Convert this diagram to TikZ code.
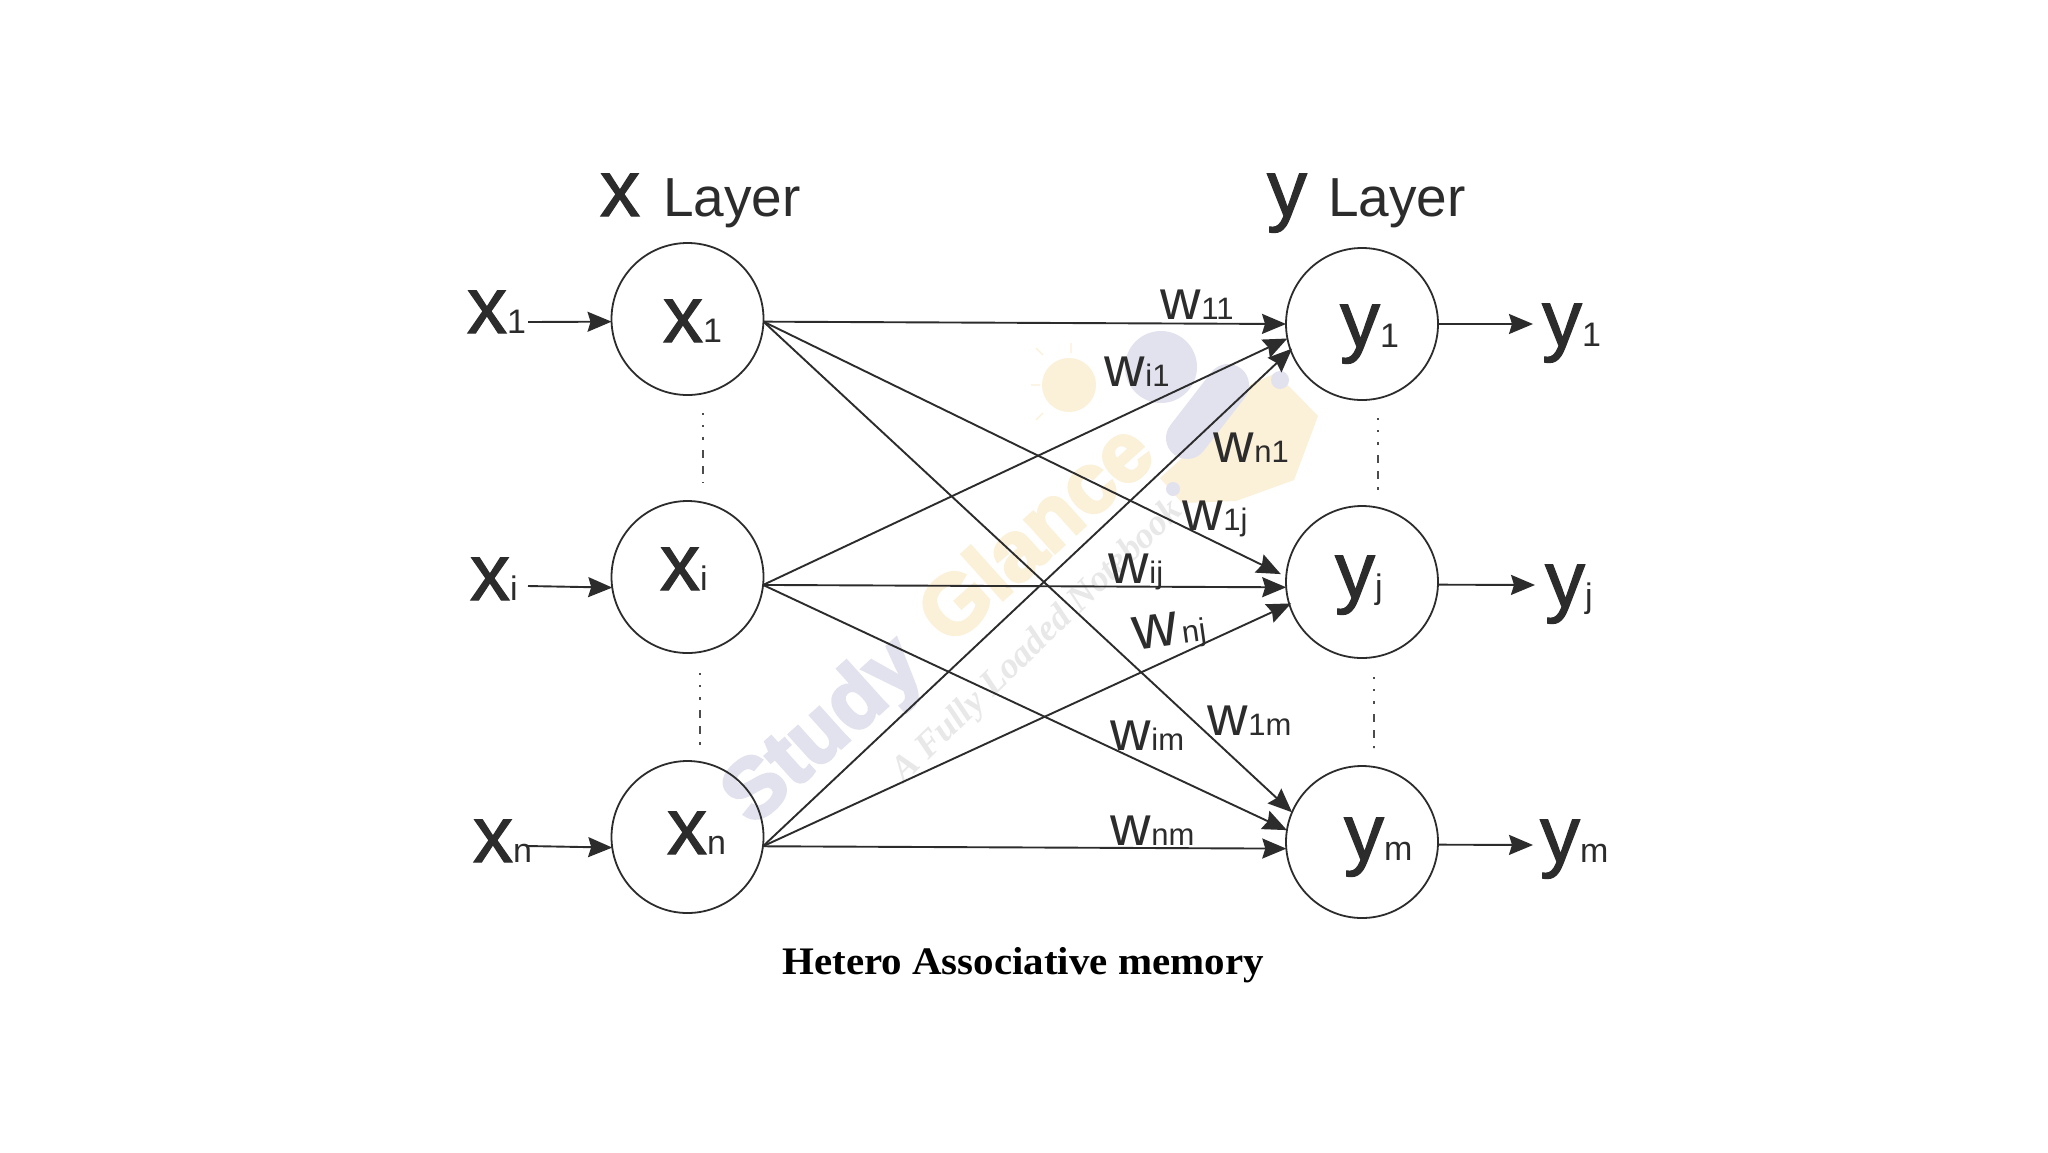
\documentclass[tikz,border=0pt]{standalone}
\usepackage{fontspec}
\setmainfont{Liberation Sans}
\newfontfamily\capfont{Liberation Serif}
\newfontfamily\heavy[FakeBold=1.4]{Liberation Sans}
\newfontfamily\wmfont[FakeBold=4]{Liberation Sans Bold}
\usetikzlibrary{arrows.meta}
\definecolor{ink}{HTML}{2C2C2C}
\definecolor{wmgold}{HTML}{FBF0D8}
\definecolor{wmblue}{HTML}{E2E2EE}
\definecolor{wmgray}{HTML}{E8E8E8}
\newcommand{\biglab}[2]{{\heavy\fontsize{40}{40}\selectfont #1}{\fontsize{17}{17}\selectfont #2}}
\newcommand{\wlab}[2]{{\fontsize{28}{28}\selectfont #1}\kern.5pt{\fontsize{15.5}{15.5}\selectfont #2}}
\tikzset{
  neuron/.style={circle,draw=ink,line width=.9pt,minimum size=76pt,inner sep=0pt,outer sep=0pt},
  txt/.style={anchor=base west,inner sep=0pt,outer sep=0pt,text=ink},
  wire/.style={draw=ink,line width=.95pt,-{Stealth[length=12pt,width=10pt,inset=1.5pt]}},
  ell/.style={draw=ink!85,line width=.6pt,dash pattern=on 1pt off 5pt on 1pt off 5pt on 1.5pt off 5pt on 4pt off 4pt on 4pt off 4pt on 1pt off 0pt},
  mark sun/.style={draw=wmgold,line width=.6pt},
  wmbig/.style={inner sep=0pt,font=\wmfont\fontsize{42}{42}\selectfont,rotate=42}
}
\begin{document}
\begin{tikzpicture}[x=.5pt,y=-.5pt]
\useasboundingbox[fill=white] (0,0) rectangle (2048,1152);
% watermark
\fill[wmgold] (1276,373) -- (1318,416) -- (1294,480) -- (1236,501) -- (1182,503) -- (1160,478) -- (1213,430) -- (1245,387) -- cycle;
\fill[wmgold] (1069,385) circle[radius=27];
\draw[mark sun] (1071,343)--(1071,353) (1043,355)--(1036,348) (1031,385)--(1040,385) (1043,413)--(1036,420);
\fill[wmblue] (1161,367) circle[radius=36];
\draw[wmblue,line width=21pt,line cap=round] (1228,385)--(1187,438);
\fill[wmblue] (1280,380) circle[radius=9];
\fill[wmblue] (1173,489) circle[radius=7];
\node[wmbig,text=wmblue] (wmstudy) at (825,733) {Study};
\node[wmbig,text=wmgold] (wmglance) at (1034,531) {Glance};
\node[inner sep=0pt,rotate=44,text=wmgray,font=\capfont\fontsize{18.3}{18.3}\selectfont\itshape\bfseries] (wmnote) at (1038,642) {A Fully Loaded Notebook};
% neurons
\node[neuron] (x1) at (687.5,319) {};
\node[neuron] (xi) at (687.5,577) {};
\node[neuron] (xn) at (687.5,837) {};
\node[neuron] (y1) at (1362,324) {};
\node[neuron] (yj) at (1362,582) {};
\node[neuron] (ym) at (1362,842) {};
% in-node labels
\node[txt] (tx1) at (663,342) {\biglab{x}{1}};
\node[txt] (txi) at (660,590) {\biglab{x}{i}};
\node[txt] (txn) at (667,854) {\biglab{x}{n}};
\node[txt] (ty1) at (1340,347) {\biglab{y}{1}};
\node[txt] (tyj) at (1335,598) {\biglab{y}{j}};
\node[txt] (tym) at (1344,860) {\biglab{y}{m}};
% input / output labels
\node[txt] (ix1) at (467,333) {\biglab{x}{1}};
\node[txt] (ixi) at (470,600) {\biglab{x}{i}};
\node[txt] (ixn) at (473,862) {\biglab{x}{n}};
\node[txt] (oy1) at (1542,346) {\biglab{y}{1}};
\node[txt] (oyj) at (1545,607) {\biglab{y}{j}};
\node[txt] (oym) at (1540,862) {\biglab{y}{m}};
% layer titles
\node[txt] (lx) at (600,216) {\heavy\fontsize{40}{40}\selectfont x};
\node[txt] (lxt) at (663,216) {\fontsize{27.5}{27.5}\selectfont Layer};
\node[txt] (ly) at (1267,216) {\heavy\fontsize{40}{40}\selectfont y};
\node[txt] (lyt) at (1328,216) {\fontsize{27.5}{27.5}\selectfont Layer};
% free ends
\coordinate (inx1) at (528,322);
\coordinate (inxi) at (528,586);
\coordinate (inxn) at (528,846);
\coordinate (outy1) at (1533,324);
\coordinate (outyj) at (1535,585);
\coordinate (outym) at (1533,845);
% input/output arrows
\draw[wire] (inx1) -- (x1.182);
\draw[wire] (inxi) -- (xi.188);
\draw[wire] (inxn) -- (xn.188);
\draw[wire] (y1.east) -- (outy1);
\draw[wire] (yj.-2) -- (outyj);
\draw[wire] (ym.-2) -- (outym);
% weights
\draw[wire] (x1.-2) -- (y1.180);
\draw[wire] (xi.-6) -- (y1.191);
\draw[wire,shorten >=-1pt] (xn.-7) -- (y1.200);
\draw[wire,shorten >=3pt] (x1.-2) -- (yj.176);
\draw[wire] (xi.-6) -- (yj.184);
\draw[wire,shorten >=-1pt] (xn.-7) -- (yj.197);
\draw[wire] (x1.-2) -- (ym.157);
\draw[wire] (xi.-6) -- (ym.171);
\draw[wire] (xn.-7) -- (ym.185);
% ellipses
\draw[ell] (703,413) -- (703,483);
\draw[ell] (700,673) -- (700,745);
\draw[ell] (1378,418) -- (1378,490);
\draw[ell] (1374,677) -- (1374,748);
% weight labels
\node[txt] (w11) at (1160,319) {\wlab{w}{11}};
\node[txt] (wi1) at (1104,386) {\wlab{w}{i1}};
\node[txt] (wn1) at (1213,462) {\wlab{w}{n1}};
\node[txt] (w1j) at (1182,530) {\wlab{w}{1j}};
\node[txt] (wij) at (1108,583) {\wlab{w}{ij}};
\node[txt,rotate=8] (wnj) at (1135,650) {{\fontsize{31}{31}\selectfont w}\kern2pt{\fontsize{15.5}{15.5}\selectfont nj}};
\node[txt] (wim) at (1110,750) {\wlab{w}{im}};
\node[txt] (w1m) at (1207,735) {\wlab{w}{1m}};
\node[txt] (wnm) at (1110,845) {\wlab{w}{nm}};
% caption
\node[inner sep=0pt,anchor=base,text=black,xscale=1.05] (cap) at (1023,974) {\capfont\bfseries\fontsize{19.5}{19.5}\selectfont Hetero Associative memory};
\end{tikzpicture}
\end{document}
